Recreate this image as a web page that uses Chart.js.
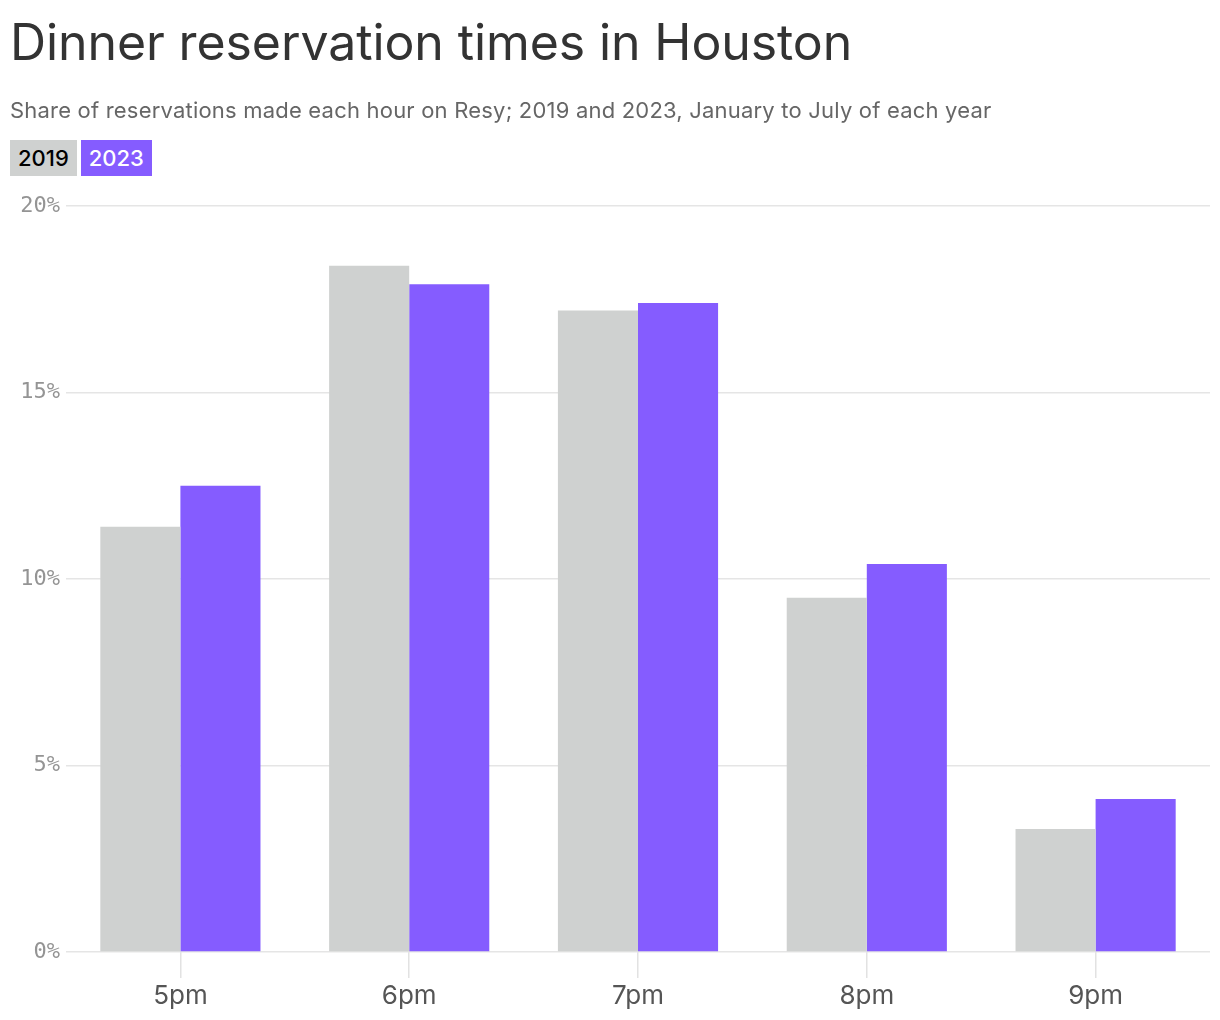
<!DOCTYPE html>
<html>
<head>
<meta charset="utf-8">
<script src="https://cdn.jsdelivr.net/npm/chart.js@4/dist/chart.umd.min.js"></script>
<style>
  html, body { margin: 0; padding: 0; background: #fff; }
  body { width: 1220px; height: 1020px; position: relative; overflow: hidden; font-family: Inter, "Noto Sans", sans-serif; }
  #title { position: absolute; left: 10px; top: 12px; font-size: 50px; color: #333; letter-spacing: -0.1px; white-space: nowrap; }
  #subtitle { position: absolute; left: 10px; top: 97px; font-size: 22px; color: #666; letter-spacing: 0.2px; white-space: nowrap; }
  #legend { position: absolute; left: 10px; top: 140px; display: flex; gap: 4px; }
  .key { height: 36px; line-height: 36px; padding: 0 8px; font-size: 22px; font-weight: 500; }
  #wrap { position: absolute; left: 0; top: 0; width: 1220px; height: 1020px; }
</style>
</head>
<body>
<div id="wrap"><canvas id="chart"></canvas></div>
<div id="title">Dinner reservation times in Houston</div>
<div id="subtitle">Share of reservations made each hour on Resy; 2019 and 2023, January to July of each year</div>
<div id="legend"></div>
<script>
const hours = ["5pm", "6pm", "7pm", "8pm", "9pm"];
const share2019 = [11.4, 18.4, 17.2, 9.5, 3.3];
const share2023 = [12.5, 17.9, 17.4, 10.4, 4.1];
const yTicks = [0, 5, 10, 15, 20];

const grey = "#cfd1d0";
const purple = "#855cff";

// legend chips above the chart
const legend = document.getElementById("legend");
[["2019", grey, "#000"], ["2023", purple, "#fff"]].forEach(([label, bg, fg]) => {
  const el = document.createElement("div");
  el.className = "key";
  el.textContent = label;
  el.style.background = bg;
  el.style.color = fg;
  legend.appendChild(el);
});

new Chart(document.getElementById("chart"), {
  type: "bar",
  data: {
    labels: hours,
    datasets: [
      { label: "2019", data: share2019, backgroundColor: grey },
      { label: "2023", data: share2023, backgroundColor: purple }
    ]
  },
  options: {
    responsive: true,
    maintainAspectRatio: false,
    animation: false,
    layout: { padding: { top: 206, right: 10, bottom: 0, left: 0 } },
    datasets: { bar: { categoryPercentage: 0.7, barPercentage: 1 } },
    plugins: { legend: { display: false }, tooltip: { enabled: false } },
    scales: {
      x: {
        grid: { offset: false, drawOnChartArea: false, drawTicks: true, tickLength: 26, color: "#e2e2e2", lineWidth: 1.5 },
        border: { display: false },
        ticks: { color: "#555", padding: 3, font: { family: "Inter", size: 26 } },
        afterFit: s => { s.height = 68; }
      },
      y: {
        min: 0,
        max: 20,
        afterBuildTicks: s => { s.ticks = yTicks.map(v => ({ value: v })); },
        grid: { drawTicks: false, color: "#e5e5e5", lineWidth: 1.5 },
        border: { display: false },
        ticks: { color: "#949494", padding: 6, font: { family: "DejaVu Sans Mono", size: 22 }, callback: v => v + "%" },
        afterFit: s => { s.width = 66; }
      }
    }
  }
});
</script>
</body>
</html>
